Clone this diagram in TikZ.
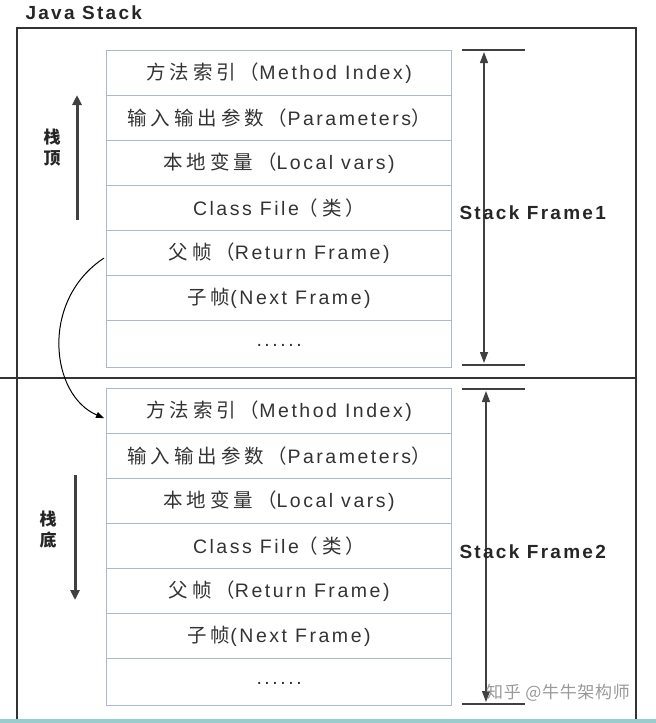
\documentclass[tikz,border=0pt]{standalone}
\usepackage{fontspec}
\setmainfont{Liberation Sans}[LetterSpace=12]
\newfontfamily\celllat{Liberation Sans}[LetterSpace=13]
\newfontfamily\zh{Noto Sans CJK SC}[LetterSpace=4]
\newfontfamily\zhcell{Noto Sans CJK SC}[LetterSpace=20]
\usetikzlibrary{arrows.meta,calc}
\definecolor{cellc}{RGB}{170,185,205}
\tikzset{
 cell/.style={draw=cellc,line width=1.2pt,minimum width=345pt,minimum height=45pt,inner sep=0pt,font=\celllat\fontsize{19.5}{20}\selectfont,text=black!80,anchor=north west},
 dimtick/.style={draw=black!75,line width=1.3pt},
 dimarr/.style={draw=black!75,line width=1.3pt,{Triangle[length=11pt,width=8pt]}-{Triangle[length=11pt,width=8pt]}},
 lab/.style={font=\bfseries\fontsize{19}{20}\selectfont,text=black!85},
 side/.style={font=\zh\bfseries\fontsize{17}{21}\selectfont,align=center,text=black!85}
}
\newcommand{\zc}[1]{{\zhcell #1}}
\begin{document}
\begin{tikzpicture}[x=1pt,y=-1pt]
\useasboundingbox (0,0) rectangle (656,723);
\fill[teal!40] (0,719) rectangle (656,723);
\node[lab,anchor=west] (title) at (22,13) {Java Stack};
\draw[black!80,line width=2pt] (17,719) -- (17,28) -- (636,28) -- (636,719);
\draw[black!80,line width=1.5pt] (0,378) -- (636,378);
\foreach \f/\y in {a/50,b/388}{
 \node[cell] (\f1) at (106,\y) {\zc{方法索引（}Method Index)};
 \node[cell] (\f2) at (106,\y+45) {\zc{输入输出参数（}Parameters\zc{）}};
 \node[cell] (\f3) at (106,\y+90) {\zc{本地变量（}Local vars)};
 \node[cell] (\f4) at (106,\y+135) {Class File\zc{（类）}};
 \node[cell] (\f5) at (106,\y+180) {\zc{父帧（}Return Frame)};
 \node[cell] (\f6) at (106,\y+225) {\zc{子帧}(Next Frame)};
 \node[cell,minimum height=47pt] (\f7) at (106,\y+270) {\raisebox{-5pt}{......}};
}
\coordinate (ta) at (462,50); \coordinate (tb) at (525,50);
\coordinate (tc) at (462,365); \coordinate (td) at (525,365);
\draw[dimtick] (ta) -- (tb); \draw[dimtick] (tc) -- (td);
\draw[dimarr] (484,52) -- (484,363);
\node[lab,anchor=west] (sf1) at (456,213) {Stack Frame1};
\coordinate (ba) at (462,389); \coordinate (bb) at (525,389);
\coordinate (bc) at (462,704); \coordinate (bd) at (525,704);
\draw[dimtick] (ba) -- (bb); \draw[dimtick] (bc) -- (bd);
\draw[dimarr] (486,391) -- (486,702);
\node[lab,anchor=west] (sf2) at (456,552) {Stack Frame2};
\node[side] (top) at (52,148) {栈\\顶};
\draw[black!75,line width=3pt,-{Triangle[length=10pt,width=9pt]}] (77,220) -- (77,95);
\node[side] (bot) at (48,530) {栈\\底};
\draw[black!75,line width=3pt,-{Triangle[length=10pt,width=9pt]}] (75,475) -- (75,600);
\draw[black,line width=1pt,-{Triangle[length=8pt,width=6pt]}] ($(a5.west)+(-2,5)$) .. controls (40,300) and (50,395) .. ($(b1.west)+(-2,7)$);
\node[font=\zh\fontsize{17}{19}\selectfont] (wm) at (558,693) {\color{black!40}知乎 @牛牛架构师};
\end{tikzpicture}
\end{document}
